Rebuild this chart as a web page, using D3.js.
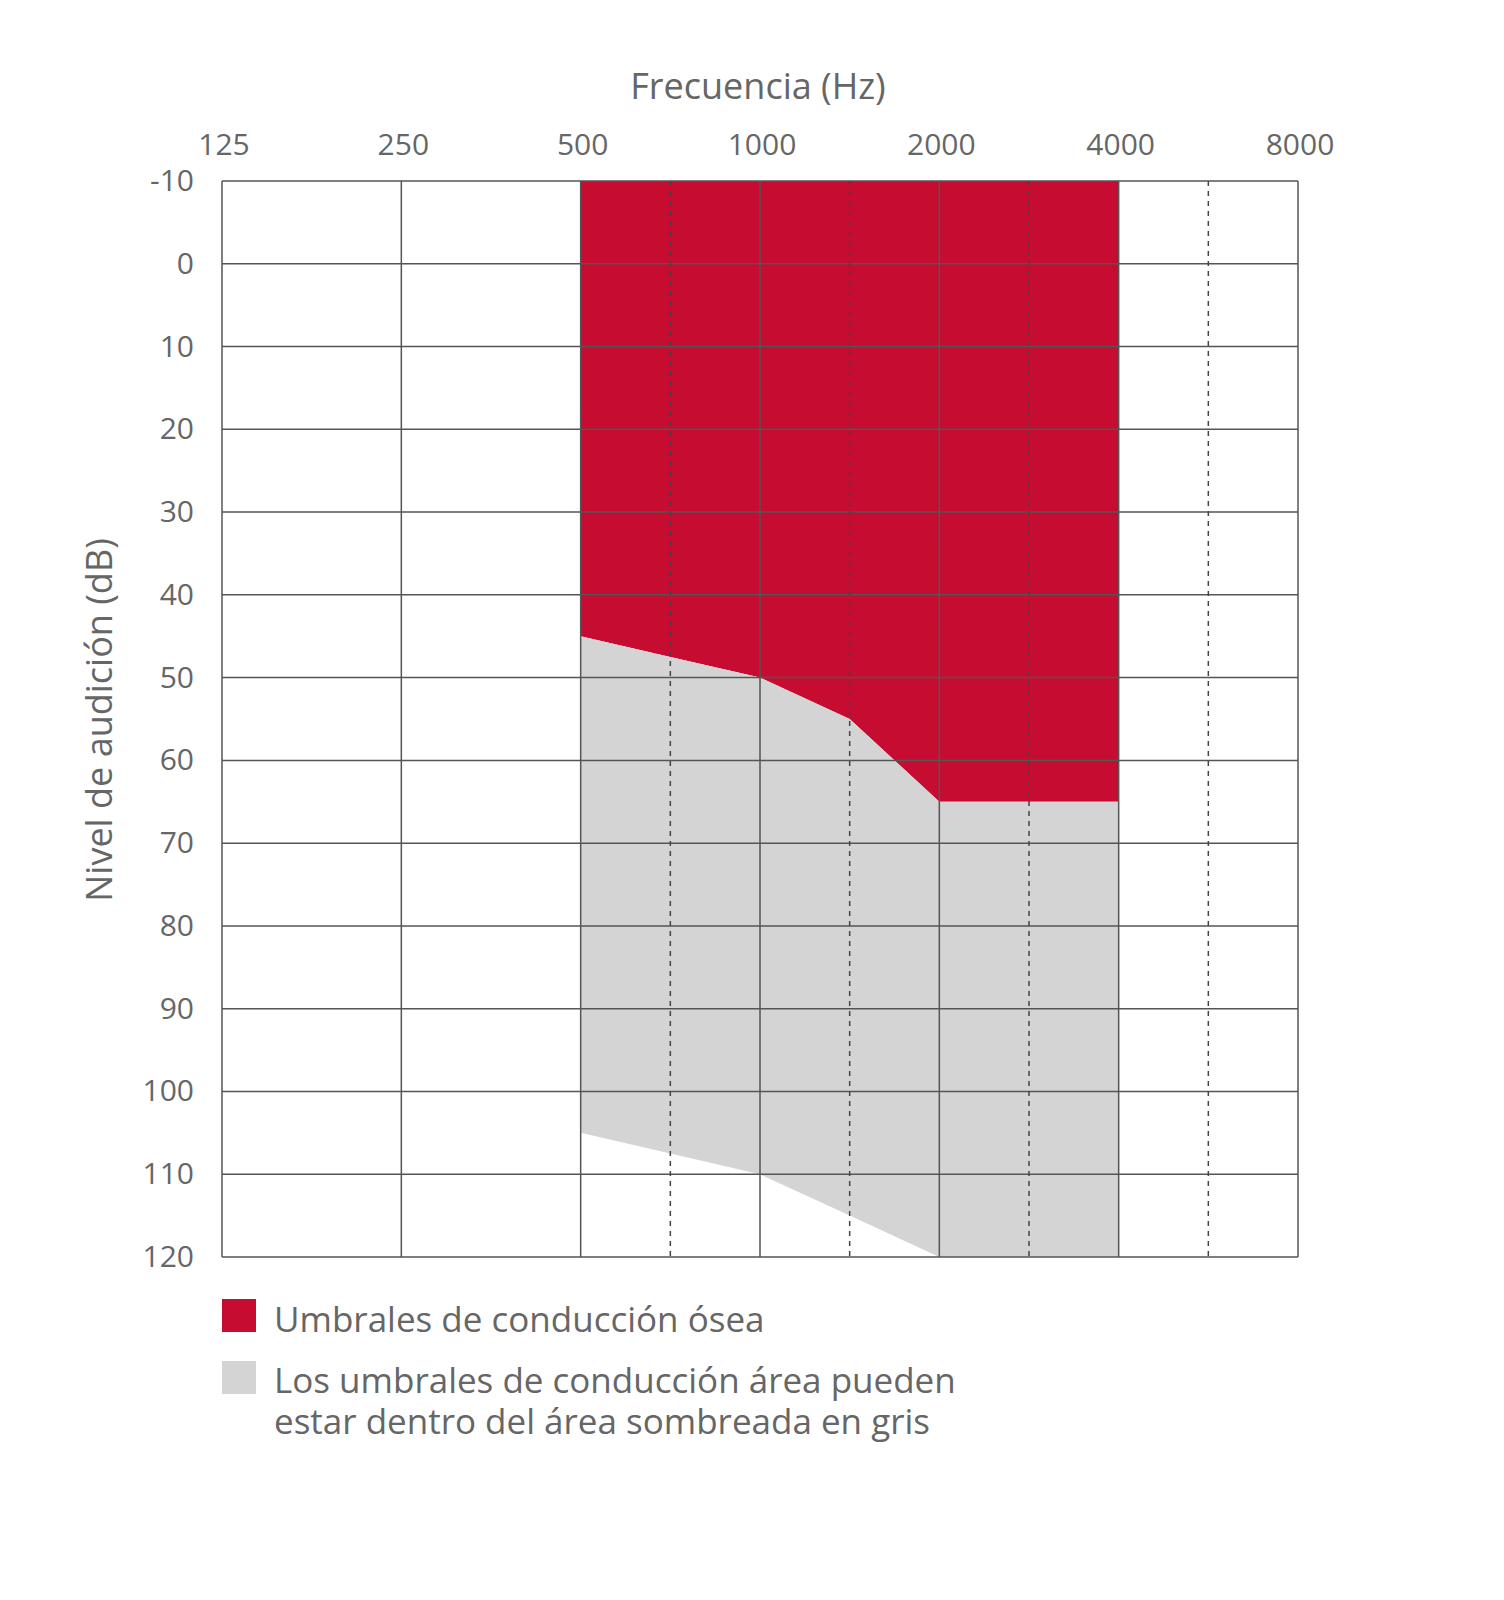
<!DOCTYPE html>
<html><head><meta charset="utf-8">
<script src="https://cdn.jsdelivr.net/npm/d3@7"></script>
<style>body{margin:0;background:#fff}text{font-family:"Open Sans",sans-serif;fill:#666}</style>
</head><body><svg id="chart" width="1504" height="1600"></svg>
<script>
// data
var freqs = [125, 250, 500, 1000, 2000, 4000, 8000];
var halfFreqs = [750, 1500, 3000, 6000];
var levels = d3.range(-10, 121, 10);
var boneFreq = [500, 750, 1000, 1500, 2000, 4000];
var boneLow = [45, 47.5, 50, 55, 65, 65];
var airLow = [105, 107.5, 110, 115, 120, 120];

var svg = d3.select("#chart");
// audiogram axis: octaves evenly spaced, half-octaves linear in between
var x = d3.scaleLinear().domain(freqs)
  .range(freqs.map(function(d, i) { return 222 + i * 1076 / 6; }));
var y = d3.scaleLinear().domain([-10, 120]).range([181, 1257]);

var red = d3.area().x(function(d, i) { return x(boneFreq[i]); })
  .y0(y(-10)).y1(function(d) { return y(d); });
svg.append("path").attr("d", red(boneLow)).attr("fill", "#c60c30");

var grey = d3.area().x(function(d, i) { return x(boneFreq[i]); })
  .y0(function(d, i) { return y(boneLow[i]); }).y1(function(d) { return y(d); });
svg.append("path").attr("d", grey(airLow)).attr("fill", "#d3d4d3");

// grid
svg.selectAll(".h").data(levels).enter().append("line")
  .attr("x1", 222).attr("x2", 1298).attr("y1", y).attr("y2", y)
  .attr("stroke", "#555").attr("stroke-width", 1.5);
svg.selectAll(".v").data(freqs).enter().append("line")
  .attr("x1", x).attr("x2", x).attr("y1", 181).attr("y2", 1257)
  .attr("stroke", "#555").attr("stroke-width", 1.5);
svg.selectAll(".d").data(halfFreqs).enter().append("line")
  .attr("x1", x).attr("x2", x).attr("y1", 181).attr("y2", 1257)
  .attr("stroke", "#444").attr("stroke-width", 1.5).attr("stroke-dasharray", "5,5");

// labels
svg.selectAll(".xl").data(freqs).enter().append("text")
  .attr("x", function(d) { return x(d) + 2; }).attr("y", 155)
  .attr("text-anchor", "middle").attr("font-size", 30).text(function(d) { return d; });
svg.selectAll(".yl").data(levels).enter().append("text")
  .attr("x", 194).attr("y", function(d) { return y(d) + 10; })
  .attr("text-anchor", "end").attr("font-size", 30).text(function(d) { return d; });

svg.append("text").attr("x", 758).attr("y", 99).attr("text-anchor", "middle")
  .attr("font-size", 36).text("Frecuencia (Hz)");
svg.append("text").attr("transform", "translate(112,720) rotate(-90)")
  .attr("text-anchor", "middle").attr("font-size", 36).text("Nivel de audición (dB)");

// legend
svg.append("rect").attr("x", 222).attr("y", 1299).attr("width", 34).attr("height", 33).attr("fill", "#c60c30");
svg.append("rect").attr("x", 222).attr("y", 1361).attr("width", 34).attr("height", 33).attr("fill", "#d3d4d3");
svg.append("text").attr("x", 274).attr("y", 1332).attr("font-size", 35).text("Umbrales de conducción ósea");
svg.append("text").attr("x", 274).attr("y", 1393).attr("font-size", 35).text("Los umbrales de conducción área pueden");
svg.append("text").attr("x", 274).attr("y", 1434).attr("font-size", 35).text("estar dentro del área sombreada en gris");
</script></body></html>
